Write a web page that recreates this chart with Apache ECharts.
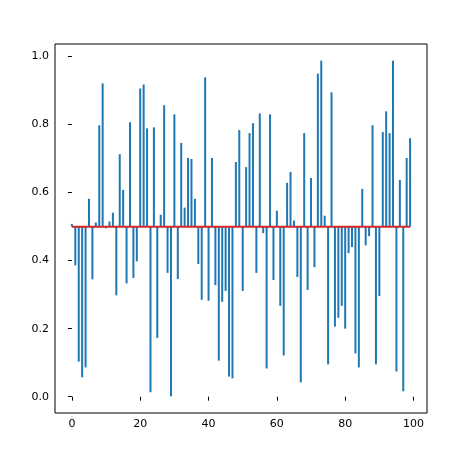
<!DOCTYPE html>
<html>
<head>
<meta charset="utf-8">
<script src="https://cdn.jsdelivr.net/npm/echarts@6/dist/echarts.min.js"></script>
<style>html,body{margin:0;padding:0;background:#fff}#chart{width:463px;height:457px}</style>
</head>
<body>
<div id="chart"></div>
<script>
var baseline = 0.5;
var values = [
  0.508,0.386,0.103,0.057,0.086,0.582,0.345,0.512,0.798,0.921,
  0.495,0.515,0.541,0.298,0.713,0.608,0.333,0.807,0.349,0.398,
  0.906,0.918,0.789,0.013,0.792,0.173,0.535,0.857,0.364,0.001,
  0.830,0.346,0.746,0.556,0.702,0.699,0.582,0.390,0.285,0.939,
  0.282,0.702,0.328,0.106,0.279,0.311,0.059,0.054,0.690,0.784,
  0.311,0.675,0.775,0.804,0.364,0.833,0.481,0.083,0.830,0.343,
  0.547,0.267,0.121,0.629,0.661,0.518,0.352,0.042,0.775,0.314,
  0.643,0.381,0.950,0.988,0.532,0.095,0.895,0.206,0.232,0.267,
  0.200,0.422,0.440,0.127,0.086,0.611,0.445,0.472,0.798,0.095,
  0.296,0.778,0.839,0.775,0.988,0.074,0.637,0.016,0.702,0.760
];
var xTicks = [0, 20, 40, 60, 80, 100];
var yTicks = [0, 0.2, 0.4, 0.6, 0.8, 1.0];

var stems = values.map(function (v, i) { return [i, v]; });

var chart = echarts.init(document.getElementById('chart'));
var axisText = {color: '#000', fontSize: 11, fontFamily: 'DejaVu Sans'};
chart.setOption({
  animation: false,
  grid: {left: 55, right: 36, top: 44, bottom: 44, show: true, borderColor: '#000', borderWidth: 1},
  xAxis: {
    type: 'value', min: -4.95, max: 103.95,
    splitLine: {show: false},
    axisLine: {show: false},
    axisTick: {show: true, customValues: xTicks, length: 4, lineStyle: {color: '#000'}},
    axisLabel: Object.assign({customValues: xTicks, margin: 6}, axisText)
  },
  yAxis: {
    type: 'value', min: -0.048, max: 1.037,
    splitLine: {show: false},
    axisLine: {show: false},
    axisTick: {show: true, customValues: yTicks, length: 4, lineStyle: {color: '#000'}},
    axisLabel: Object.assign({customValues: yTicks, margin: 6, formatter: function (v) { return v.toFixed(1); }}, axisText)
  },
  series: [
    {
      type: 'custom',
      data: stems,
      renderItem: function (params, api) {
        var a = api.coord([api.value(0), baseline]);
        var b = api.coord([api.value(0), api.value(1)]);
        return {type: 'line', shape: {x1: a[0], y1: a[1], x2: b[0], y2: b[1]},
          style: {stroke: '#1f77b4', lineWidth: 2}};
      }
    },
    {
      type: 'line',
      data: [[0, baseline], [values.length - 1, baseline]],
      symbol: 'none',
      lineStyle: {color: '#d62728', width: 2},
      z: 5
    }
  ]
});
</script>
</body>
</html>
